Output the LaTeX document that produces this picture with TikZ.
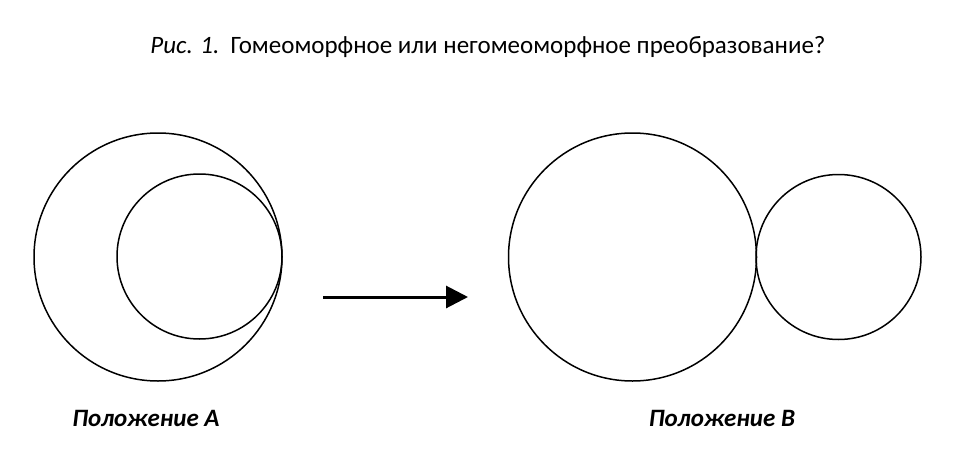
\documentclass[tikz,border=0pt]{standalone}
\usepackage{fontspec}
\setmainfont{Carlito}
\usetikzlibrary{arrows.meta}
\begin{document}
\begin{tikzpicture}[x=1pt,y=-1pt,
  ring/.style={draw=black,line width=1.5pt},
  poslabel/.style={font=\fontsize{25}{28}\selectfont\bfseries\itshape,anchor=base},
  move/.style={line width=3pt,-{Triangle[length=22pt,width=22pt]}}]
\useasboundingbox (0,0) rectangle (953,458);
\node[anchor=base,font=\fontsize{25}{28}\selectfont] (title) at (488,53) {\textit{Рис. 1.}\ \ Гомеоморфное или негомеоморфное преобразование?};
\node[ring,circle,minimum size=248pt,inner sep=0pt] (bigA) at (158,257) {};
\node[ring,circle,minimum size=165pt,inner sep=0pt] (smallA) at (199.5,256.5) {};
\node[ring,circle,minimum size=248pt,inner sep=0pt] (bigB) at (632.5,257) {};
\node[ring,circle,minimum size=165pt,inner sep=0pt] (smallB) at (838.5,257) {};
\coordinate (s) at (323,297);
\coordinate (e) at (468,297);
\draw[move] (s) -- (e);
\node[poslabel] (labA) at (146,426) {Положение А};
\node[poslabel] (labB) at (722,426) {Положение В};
\end{tikzpicture}
\end{document}
